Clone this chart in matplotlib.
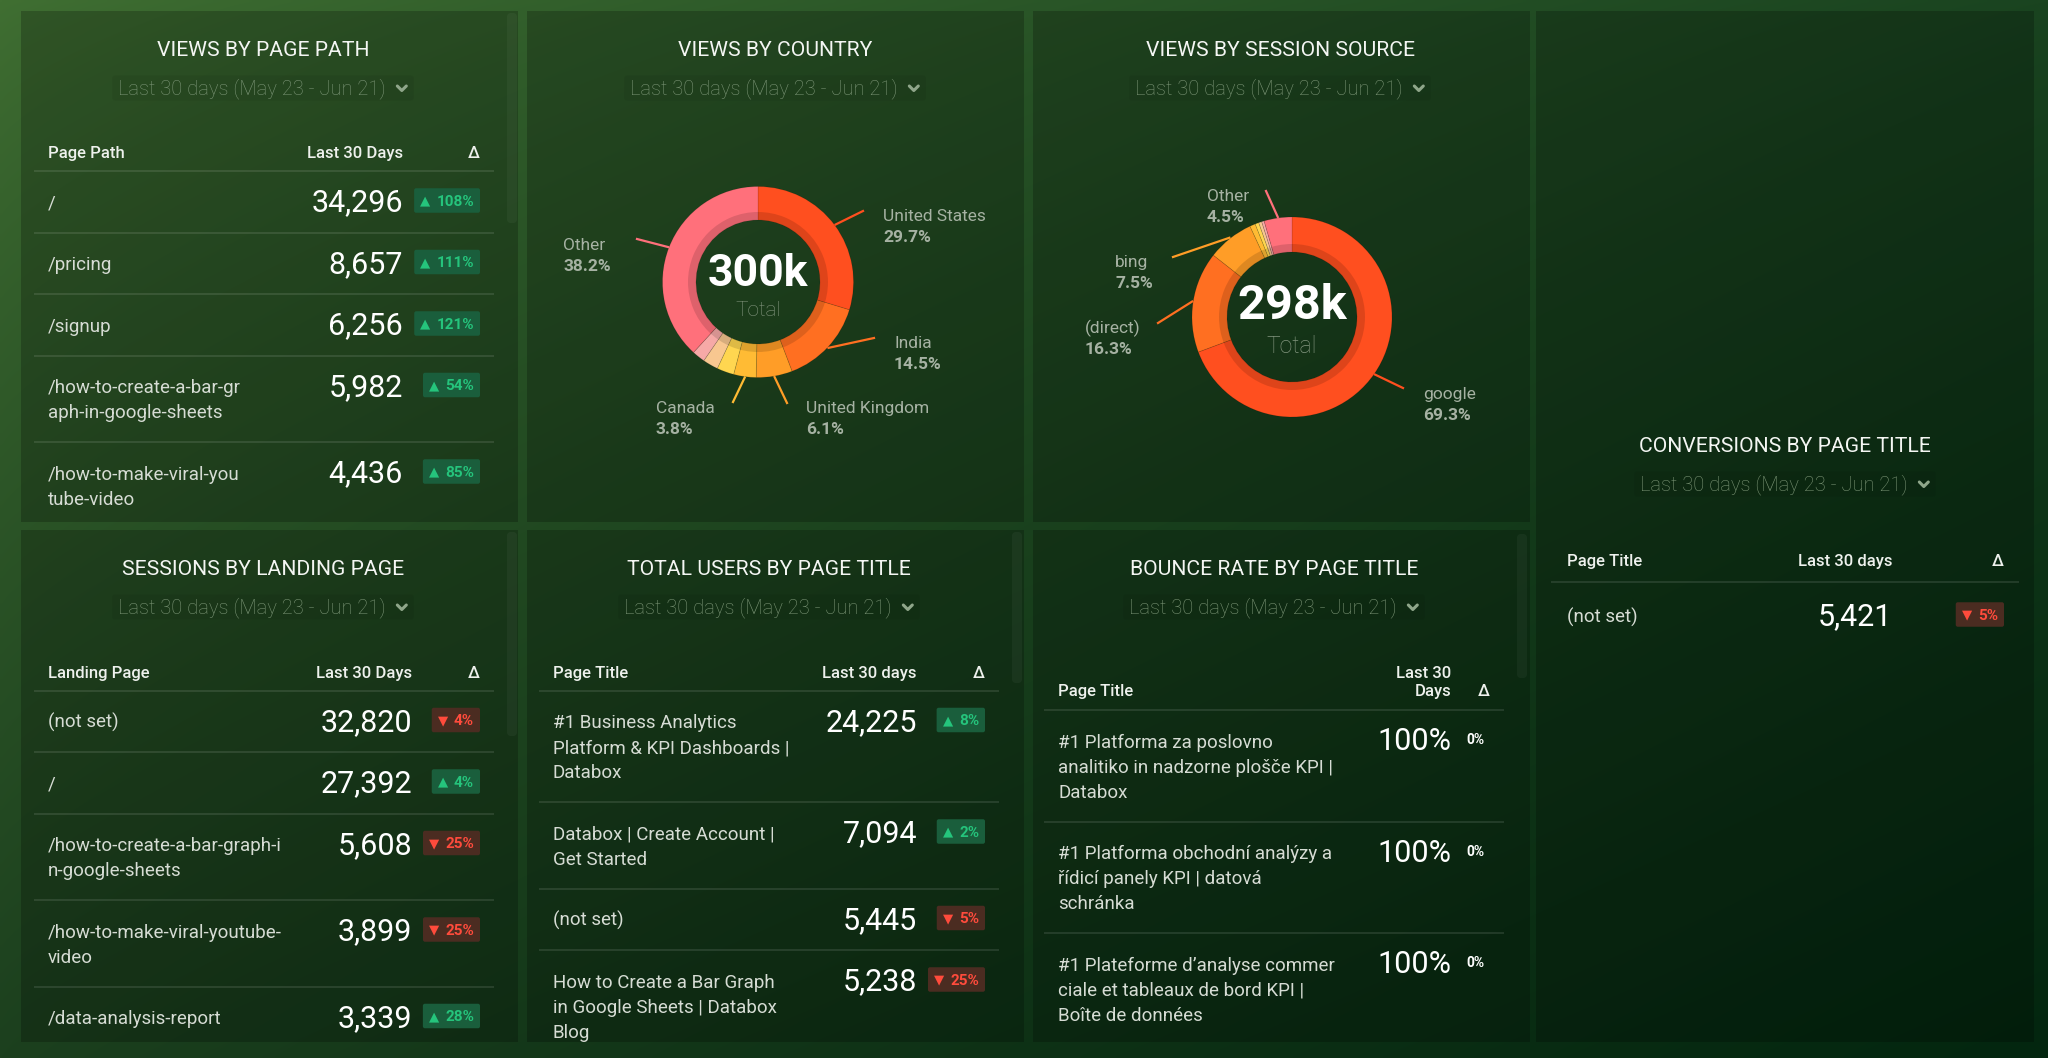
import numpy as np
import matplotlib.pyplot as plt
from matplotlib.patches import Rectangle, FancyBboxPatch, Annulus

W, H = 2048, 1058
FONT = ["Roboto", "DejaVu Sans"]

# ---- data -------------------------------------------------------------
period = "Last 30 days (May 23 - Jun 21)"

page_paths = ["/", "/pricing", "/signup",
              "/how-to-create-a-bar-gr\naph-in-google-sheets",
              "/how-to-make-viral-you\ntube-video"]
page_views = [34296, 8657, 6256, 5982, 4436]
page_delta = [108, 111, 121, 54, 85]

landing_pages = ["(not set)", "/",
                 "/how-to-create-a-bar-graph-i\nn-google-sheets",
                 "/how-to-make-viral-youtube-\nvideo",
                 "/data-analysis-report"]
landing_sessions = [32820, 27392, 5608, 3899, 3339]
landing_delta = [-4, 4, -25, -25, 28]

user_titles = ["#1 Business Analytics\nPlatform & KPI Dashboards |\nDatabox",
               "Databox | Create Account |\nGet Started",
               "(not set)",
               "How to Create a Bar Graph\nin Google Sheets | Databox\nBlog"]
user_counts = [24225, 7094, 5445, 5238]
user_delta = [8, 2, -5, -25]

bounce_titles = ["#1 Platforma za poslovno\nanalitiko in nadzorne plošče KPI |\nDatabox",
                 "#1 Platforma obchodní analýzy a\nřídicí panely KPI | datová\nschránka",
                 "#1 Plateforme d\u2019analyse commer\nciale et tableaux de bord KPI |\nBoîte de données"]
bounce_rate = [100, 100, 100]
bounce_delta = [0, 0, 0]

conv_titles = ["(not set)"]
conv_counts = [5421]
conv_delta = [-5]

country_names = ["United States", "India", "United Kingdom", "Canada", "", "", "", "Other"]
country_share = [29.7, 14.5, 6.1, 3.8, 2.9, 2.6, 2.2, 38.2]
country_total = "300k"

source_names = ["google", "(direct)", "bing", "", "", "", "", "Other"]
source_share = [69.3, 16.3, 7.5, 0.9, 0.6, 0.5, 0.4, 4.5]
source_total = "298k"

# ---- colours ----------------------------------------------------------
TITLE = "#f4f6f3"
SUB = "#7a9475"
CHEV = "#8fa68a"
HEAD = "#eef1ed"
LABEL = "#d6dcd4"
DLBL = "#a6b2a3"
GREEN_FG, GREEN_BG = "#25c47c", "#1a5e3c"
RED_FG, RED_BG = "#ff4b3c", "#4b2c21"
donut_cols = ["#ff4f1f", "#ff6f21", "#ff9d27", "#ffbb34", "#ffd650", "#f8c790", "#f6a9a7", "#ff707b"]

fig = plt.figure(figsize=(W / 100, H / 100), dpi=100)
renderer = fig.canvas.get_renderer()

# background gradient
bg = fig.add_axes([0, 0, 1, 1])
xx, yy = np.meshgrid(np.linspace(0, 1, 512), np.linspace(0, 1, 265))
tl = np.array([0x40, 0x6f, 0x32]) / 255
tr = np.array([0x1a, 0x44, 0x20]) / 255
bl = np.array([0x1c, 0x40, 0x1e]) / 255
br = np.array([0x03, 0x26, 0x0f]) / 255
X, Y = xx[..., None] ** 0.8, yy[..., None] ** 0.8
img = (1 - X) * (1 - Y) * tl + X * (1 - Y) * tr + (1 - X) * Y * bl + X * Y * br
bg.imshow(img, extent=(0, W, H, 0), aspect="auto", interpolation="bilinear")
bg.set_xlim(0, W)
bg.set_ylim(H, 0)
bg.axis("off")

panels = [(21, 11, 518, 522), (527, 11, 1024, 522), (1033, 11, 1530, 522),
          (1536, 11, 2034, 1042), (21, 530, 518, 1042), (527, 530, 1024, 1042),
          (1033, 530, 1530, 1042)]
for x0, y0, x1, y1 in panels:
    bg.add_patch(Rectangle((x0, y0), x1 - x0, y1 - y0, color="black", alpha=0.22, lw=0))

# scrollbars
for x0, y0, y1 in [(507, 13, 223), (507, 532, 736), (1012, 532, 683), (1517, 534, 678)]:
    bg.add_patch(FancyBboxPatch((x0, y0), 10, y1 - y0, boxstyle="round,pad=0,rounding_size=4",
                                color="white", alpha=0.04, lw=0))

ov = fig.add_axes([0, 0, 1, 1])
ov.set_zorder(5)
ov.patch.set_visible(False)
ov.set_xlim(0, W)
ov.set_ylim(H, 0)
ov.axis("off")


def put(x, y, s, size, color, weight="normal", ha="left", family=FONT):
    # y is the visual centre of the text, in pixels from the top
    return ov.text(x, y + 0.355 * size * 100 / 72, s, fontsize=size, color=color,
                   fontweight=weight, ha=ha, va="baseline", family=family)


def heading(cx, top, title):
    put(cx, top + 38, title, 15.2, TITLE, ha="center")
    y = top + 76.5
    t = put(0, y, period, 14.5, SUB, weight="light")
    w = t.get_window_extent(renderer).width
    left = cx - (w + 22) / 2
    t.set_x(left)
    c = left + w + 16
    ov.plot([c - 4.5, c, c + 4.5], [y - 1.5, y + 3, y - 1.5], color=CHEV, lw=2.2,
            solid_capstyle="round", solid_joinstyle="round")
    ov.add_patch(FancyBboxPatch((left - 6, y - 12), w + 34, 25,
                                boxstyle="round,pad=0,rounding_size=3",
                                color="black", alpha=0.06, lw=0))


def badge(xr, y, d):
    if d == 0:
        put(xr - 15, y, "0%", 10, "white", "bold", ha="center")
        return
    fg, bgc = (GREEN_FG, GREEN_BG) if d > 0 else (RED_FG, RED_BG)
    tri = put(0, y - 0.5, "\u25B2" if d > 0 else "\u25BC", 9.5, fg, family=["DejaVu Sans"])
    num = put(0, y, f"{abs(d)}%", 11, fg, "bold")
    wt = tri.get_window_extent(renderer).width
    wn = num.get_window_extent(renderer).width
    w = wt + 6 + wn + 12
    tri.set_x(xr - w + 6)
    num.set_x(xr - w + 6 + wt + 6)
    ov.add_patch(FancyBboxPatch((xr - w, y - 12.25), w, 24.5,
                                boxstyle="round,pad=0,rounding_size=2",
                                color=bgc, lw=0, zorder=1))


def table(labels, values, deltas, fmt, label_x, val_r, delta_x, lx0, lx1,
          line_y, heads, off=0.0):
    for hx, hy, hs, ha in heads:
        put(hx, hy, hs, 12, HEAD, "medium", ha=ha)
    ov.plot([lx0, lx1], [line_y, line_y], color="white", alpha=0.1, lw=1.5)
    top = line_y
    for i, (lab, v, d) in enumerate(zip(labels, values, deltas)):
        lines = lab.split("\n")
        for k, ln in enumerate(lines):
            put(label_x, top + 31 + off + 25 * k, ln, 13.5, LABEL)
        put(val_r, top + 29.5 + off, fmt(v), 22, "white", ha="right")
        badge(delta_x + 6, top + 29.5 + off, d)
        bottom = top + 36.5 + 25 * len(lines)
        if i < len(labels) - 1:
            ov.plot([lx0, lx1], [bottom, bottom], color="white", alpha=0.1, lw=1.5)
        top = bottom


def donut(cx, cy, R, r_in, shares, names, ends, lpos, total, tsize, ty, lsize, ly):
    ax = fig.add_axes([(cx - R) / W, 1 - (cy + R) / H, 2 * R / W, 2 * R / H])
    ax.set_zorder(2)
    ax.pie(shares, colors=donut_cols, startangle=90, counterclock=False, radius=1,
           wedgeprops=dict(width=(R - r_in) / R, linewidth=0.6, edgecolor=(0, 0, 0, 0.12)))
    ax.add_patch(Annulus((0, 0), (r_in + 8) / R, 8 / R, color="black", alpha=0.13, lw=0))
    ax.set_xlim(-1, 1)
    ax.set_ylim(-1, 1)
    ax.axis("off")
    cum = 0.0
    j = 0
    for share, name, col in zip(shares, names, donut_cols):
        mid = np.radians(90 - (cum + share / 2) * 3.6)
        cum += share
        if not name:
            continue
        sx, sy = cx + (R + 1) * np.cos(mid), cy - (R + 1) * np.sin(mid)
        ex, ey = ends[j]
        ov.plot([sx, ex], [sy, ey], color=col, lw=1.6)
        lx, lyy = lpos[j]
        put(lx, lyy, name, 12.5, DLBL)
        put(lx, lyy + 20.5, f"{share}%", 12.5, DLBL, "bold")
        j += 1
    put(cx, ty, total, tsize, "white", "bold", ha="center")
    put(cx, ly, "Total", lsize, "#82957e", "light", ha="center")


# ---- panels -----------------------------------------------------------
heading(263, 11, "VIEWS BY PAGE PATH")
table(page_paths, page_views, page_delta, lambda v: f"{v:,}", 48, 403, 474, 35, 493, 171,
      [(48, 152, "Page Path", "left"), (403, 152, "Last 30 Days", "right"),
       (474, 152, "\u0394", "center")])

heading(775, 11, "VIEWS BY COUNTRY")
donut(758, 282, 95.5, 62, country_share, country_names,
      [(863, 211), (874, 338), (787, 403), (733, 402), (637, 239)],
      [(883, 215), (894, 342), (806, 407), (656, 407), (563, 244)],
      country_total, 32, 270, 15, 309)

heading(1280, 11, "VIEWS BY SESSION SOURCE")
donut(1292, 317, 100, 65, source_share, source_names,
      [(1403, 388), (1158, 323), (1173, 257), (1266, 191)],
      [(1423, 393), (1085, 327), (1115, 261), (1207, 195)],
      source_total, 35, 302, 16.5, 345)

heading(1785, 407, "CONVERSIONS BY PAGE TITLE")
table(conv_titles, conv_counts, conv_delta, lambda v: f"{v:,}", 1567, 1892, 1998, 1552, 2018, 582,
      [(1567, 560, "Page Title", "left"), (1892, 560, "Last 30 days", "right"),
       (1998, 560, "\u0394", "center")], off=3)

heading(263, 530, "SESSIONS BY LANDING PAGE")
table(landing_pages, landing_sessions, landing_delta, lambda v: f"{v:,}", 48, 412, 474, 35, 493, 690.5,
      [(48, 671.7, "Landing Page", "left"), (412, 671.7, "Last 30 Days", "right"),
       (474, 671.7, "\u0394", "center")])

heading(769, 530, "TOTAL USERS BY PAGE TITLE")
table(user_titles, user_counts, user_delta, lambda v: f"{v:,}", 553, 917, 979, 540, 998, 690.5,
      [(553, 671.7, "Page Title", "left"), (917, 671.7, "Last 30 days", "right"),
       (979, 671.7, "\u0394", "center")])

heading(1274, 530, "BOUNCE RATE BY PAGE TITLE")
table(bounce_titles, bounce_rate, bounce_delta, lambda v: f"{v}%", 1058, 1451, 1484, 1045, 1503, 710,
      [(1058, 690.5, "Page Title", "left"), (1451, 671.7, "Last 30", "right"),
       (1451, 690.5, "Days", "right"), (1484, 690.5, "\u0394", "center")])

fig.savefig("out.png", dpi=100)
